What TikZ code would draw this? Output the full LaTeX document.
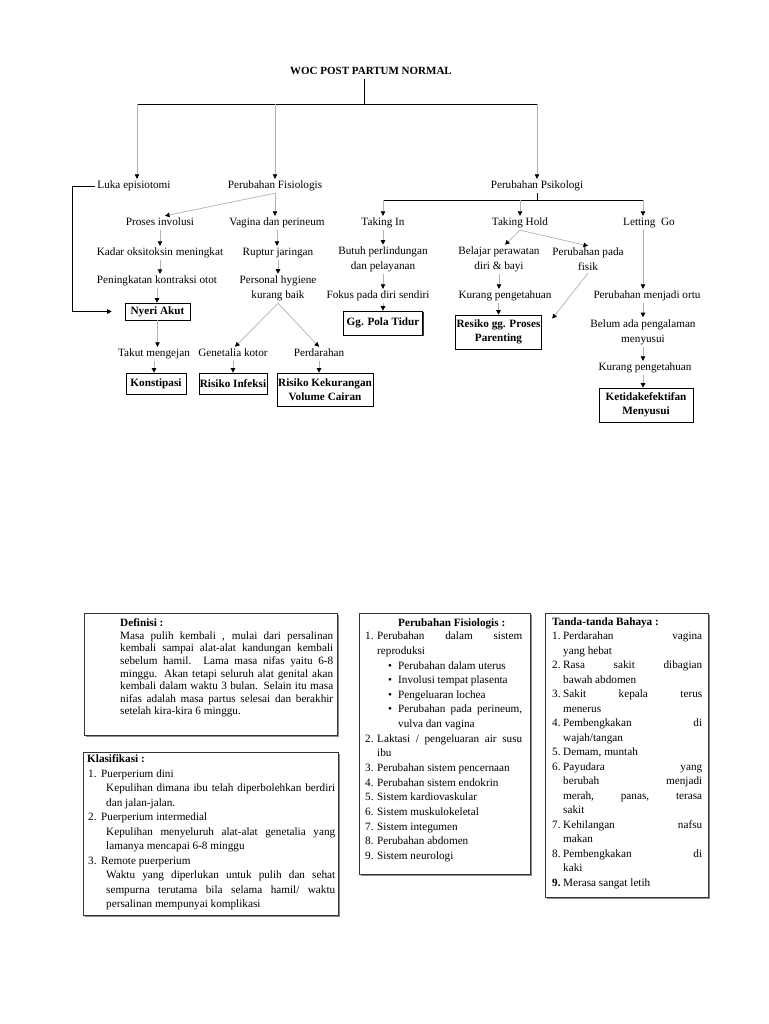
\documentclass[tikz,border=0pt]{standalone}
\usepackage{fontspec}
\setmainfont{Liberation Serif}
\usepackage{tikz}
\usetikzlibrary{arrows.meta,shadows}
\setlength{\parindent}{0pt}
\tolerance=9999
\hbadness=10000
\hyphenpenalty=10000
\exhyphenpenalty=10000
\tikzstyle{txt} = [inner sep=2pt, font=\fontsize{11.2}{15}\selectfont, text height=7.6pt, text depth=2.4pt]
\tikzstyle{txttwo} = [inner sep=2pt, font=\fontsize{11.2}{15}\selectfont, align=center]
\tikzstyle{block} = [rectangle, draw=black, line width=0.7pt, inner sep=1pt, fill=white, font=\fontsize{11.2}{14.5}\selectfont\bfseries, align=center, drop shadow={shadow xshift=1pt, shadow yshift=-1pt, fill=black, opacity=0.8}]
\tikzstyle{arrow} = [draw=black!30, line width=0.7pt, -{Triangle[black, length=4.5pt, width=4.5pt]}]
\tikzstyle{line} = [draw=black, line width=0.8pt]
\tikzstyle{infobox} = [rectangle, anchor=north west, draw=black!80, line width=0.7pt, fill=white, drop shadow={shadow xshift=1.5pt, shadow yshift=-1.5pt, fill=black!45, opacity=1}]
\tikzstyle{infotext} = [anchor=north west, inner sep=0pt, align=justify]
% nomor daftar: indentasi teks, lebar nomor, nomor
\newcommand{\nitem}[3]{\par\leftskip=#1\noindent\llap{\makebox[#2][l]{#3}}\ignorespaces}

\begin{document}
\begin{tikzpicture}[x=1pt, y=-1pt]
    \fill[white] (0,0) rectangle (768,1024);
    \useasboundingbox (0,0) rectangle (768,1024);

    % judul dan cabang utama
    \node (title) [txt, font=\fontsize{11}{13}\selectfont\bfseries] at (371,72) {WOC POST PARTUM NORMAL};
    \coordinate (barmid) at (364,104);
    \coordinate (barleft) at (137,104);
    \coordinate (barright) at (537,104);
    \draw [line] (title.south -| barmid) -- (barmid);
    \draw [line] (barleft) -- (barright);

    \node (luka) [txt] at (134,186) {Luka episiotomi};
    \node (fisio) [txt] at (275,186) {Perubahan Fisiologis};
    \node (psiko) [txt] at (537,186) {Perubahan Psikologi};
    \draw [arrow] (barleft) -- (barleft |- luka.north);
    \draw [arrow] (fisio.north |- barleft) -- (fisio.north);
    \draw [arrow] (barright) -- (psiko.north);

    % perubahan fisiologis
    \node (involusi) [txt] at (160,223) {Proses involusi};
    \node (vagina) [txt] at (277,223) {Vagina dan perineum};
    \node (kadar) [txt] at (160,253) {Kadar oksitoksin meningkat};
    \node (ruptur) [txt] at (278,253) {Ruptur jaringan};
    \node (kontraksi) [txt] at (157,281) {Peningkatan kontraksi otot};
    \node (hygiene) [txttwo] at (278,288.5) {Personal hygiene\\kurang baik};
    \node (nyeri) [block, minimum width=65pt, minimum height=17pt] at (157.5,311.5) {Nyeri Akut};
    \node (takut) [txt] at (154,354) {Takut mengejan};
    \node (genetalia) [txt] at (233,354) {Genetalia kotor};
    \node (perdarahan) [txt] at (319,354) {Perdarahan};
    \node (konstipasi) [block, minimum width=60pt, minimum height=21pt] at (156,383.5) {Konstipasi};
    \node (infeksi) [block, minimum width=68pt, minimum height=21pt] at (233,383.5) {Risiko Infeksi};
    \node (cairan) [block, minimum width=96pt, minimum height=33pt] at (325,389.5) {Risiko Kekurangan\\Volume Cairan};

    \draw [arrow] (fisio.south) -- ([xshift=5pt]involusi.north);
    \draw [arrow] (fisio.south) -- (fisio.south |- vagina.north);
    \draw [arrow] (involusi.south) -- (kadar.north);
    \draw [arrow] (kadar.south) -- (kadar.south |- kontraksi.north);
    \draw [arrow] (kontraksi.south) -- (kontraksi.south |- nyeri.north);
    \draw [arrow] (vagina.south) -- (vagina.south |- ruptur.north);
    \draw [arrow] (ruptur.south) -- (ruptur.south |- hygiene.north);
    \draw [arrow] (hygiene.south) -- ([xshift=2pt]genetalia.north);
    \draw [arrow] (hygiene.south) -- (perdarahan.north);
    \draw [arrow] (nyeri.south) -- (nyeri.south |- takut.north);
    \draw [arrow] (takut.south) -- (takut.south |- konstipasi.north);
    \draw [arrow] (genetalia.south) -- (infeksi.north);
    \draw [arrow] (perdarahan.south) -- (perdarahan.south |- cairan.north);
    \draw [line, -{Triangle[length=4.5pt, width=4.5pt]}] (luka.west) -| ([xshift=-52pt]nyeri.west) -- ([xshift=-13pt]nyeri.west);

    % perubahan psikologi
    \coordinate (psibar) at (537,200);
    \coordinate (inbar) at (383,200);
    \coordinate (gobar) at (643,200);
    \draw [line] (psiko.south) -- (psibar);
    \draw [line] (inbar) -- (gobar);

    \node (takingin) [txt] at (383,223) {Taking In};
    \node (takinghold) [txt] at (520,223) {Taking Hold};
    \node (lettinggo) [txt] at (649,223) {Letting~~Go};
    \draw [arrow] (inbar) -- (takingin.north);
    \draw [arrow] (takinghold.north |- inbar) -- (takinghold.north);
    \draw [arrow] (gobar) -- (gobar |- lettinggo.north);

    \node (butuh) [txttwo] at (383,259.5) {Butuh perlindungan\\dan pelayanan};
    \node (fokus) [txt] at (378,296) {Fokus pada diri sendiri};
    \node (tidur) [block, minimum width=79pt, minimum height=24pt] at (383,323) {Gg. Pola Tidur};
    \draw [arrow] (takingin.south) -- (butuh.north);
    \draw [arrow] (butuh.south) -- (butuh.south |- fokus.north);
    \draw [arrow] (fokus.south -| tidur.north) -- (tidur.north);

    \node (belajar) [txttwo] at (499,259.5) {Belajar perawatan\\diri \& bayi};
    \node (fisik) [txttwo] at (588,259.5) {Perubahan pada\\fisik};
    \node (kurangtahu) [txt] at (505,296) {Kurang pengetahuan};
    \node (parenting) [block, minimum width=85pt, minimum height=34pt] at (498.5,332) {Resiko gg. Proses\\Parenting};
    \draw [arrow] (takinghold.south) -- ([xshift=6pt]belajar.north);
    \draw [arrow] (takinghold.south) -- (fisik.north);
    \draw [arrow] (belajar.south) -- (belajar.south |- kurangtahu.north);
    \draw [arrow] (kurangtahu.south -| parenting.north) -- (parenting.north);
    \draw [arrow, shorten >=17pt] (fisik.south) -- (parenting.east);

    \node (ortu) [txt] at (647,296) {Perubahan menjadi ortu};
    \node (belum) [txttwo] at (643,332) {Belum ada pengalaman\\menyusui};
    \node (kurangtahu2) [txt] at (645,368) {Kurang pengetahuan};
    \node (menyusui) [block, minimum width=94pt, minimum height=34pt] at (646,405) {Ketidakefektifan\\Menyusui};
    \draw [arrow] (lettinggo.south -| gobar) -- (gobar |- ortu.north);
    \draw [arrow] (ortu.south -| gobar) -- (gobar |- belum.north);
    \draw [arrow] (belum.south -| gobar) -- (gobar |- kurangtahu2.north);
    \draw [arrow] (kurangtahu2.south -| gobar) -- (gobar |- menyusui.north);

    % kotak keterangan
    \node (defbox) [infobox, minimum width=253pt, minimum height=122pt] at (84,613) {};
    \node (deftext) [infotext, text width=213pt, font=\fontsize{11.2}{12.6}\selectfont] at (120,617.7) {\strut\textbf{Definisi :}\par
        Masa pulih kembali , mulai dari persalinan\linebreak
        kembali sampai alat-alat kandungan kembali\linebreak
        sebelum hamil. Lama masa nifas yaitu 6-8\linebreak
        minggu. Akan tetapi seluruh alat genital akan\linebreak
        kembali dalam waktu 3 bulan. Selain itu masa\linebreak
        nifas adalah masa partus selesai dan berakhir\linebreak
        setelah kira-kira 6 minggu.\par};

    \node (klasbox) [infobox, minimum width=255pt, minimum height=163pt] at (83,752) {};
    \node (klastext) [infotext, text width=248pt, font=\fontsize{11.2}{14.5}\selectfont] at (87,752.3) {\strut\textbf{Klasifikasi :}\par
        \nitem{14pt}{13pt}{1.}Puerperium dini\par
        \leftskip=19pt Kepulihan dimana ibu telah diperbolehkan berdiri\linebreak dan jalan-jalan.\par
        \nitem{14pt}{13pt}{2.}Puerperium intermedial\par
        \leftskip=19pt Kepulihan menyeluruh alat-alat genetalia yang\linebreak lamanya mencapai 6-8 minggu\par
        \nitem{14pt}{13pt}{3.}Remote puerperium\par
        \leftskip=19pt Waktu yang diperlukan untuk pulih dan sehat\linebreak sempurna terutama bila selama hamil/ waktu\linebreak persalinan mempunyai komplikasi\par};

    \node (fisbox) [infobox, minimum width=171pt, minimum height=261pt] at (359,613) {};
    \node (fistext) [infotext, text width=157pt, font=\fontsize{11.2}{14.65}\selectfont] at (365,616.2) {\strut\hspace*{33pt}\textbf{Perubahan Fisiologis :}\par\vspace{-1.6pt}
        \nitem{12pt}{12pt}{1.}Perubahan dalam sistem\linebreak reproduksi\par
        \nitem{33pt}{10pt}{\textbullet}Perubahan dalam uterus\par
        \nitem{33pt}{10pt}{\textbullet}Involusi tempat plasenta\par
        \nitem{33pt}{10pt}{\textbullet}Pengeluaran lochea\par
        \nitem{33pt}{10pt}{\textbullet}Perubahan pada perineum,\linebreak vulva dan vagina\par
        \nitem{12pt}{12pt}{2.}Laktasi / pengeluaran air susu\linebreak ibu\par
        \nitem{12pt}{12pt}{3.}Perubahan sistem pencernaan\par
        \nitem{12pt}{12pt}{4.}Perubahan sistem endokrin\par
        \nitem{12pt}{12pt}{5.}Sistem kardiovaskular\par
        \nitem{12pt}{12pt}{6.}Sistem muskulokeletal\par
        \nitem{12pt}{12pt}{7.}Sistem integumen\par
        \nitem{12pt}{12pt}{8.}Perubahan abdomen\par
        \nitem{12pt}{12pt}{9.}Sistem neurologi\par};

    \node (tandabox) [infobox, minimum width=163pt, minimum height=284pt] at (545,613) {};
    \node (tandatext) [infotext, text width=150pt, font=\fontsize{11.2}{14.5}\selectfont] at (552,614.9) {\strut\textbf{Tanda-tanda Bahaya :}\par
        \nitem{11pt}{11pt}{1.}Perdarahan vagina\linebreak yang hebat\par
        \nitem{11pt}{11pt}{2.}Rasa sakit dibagian\linebreak bawah abdomen\par
        \nitem{11pt}{11pt}{3.}Sakit kepala terus\linebreak menerus\par
        \nitem{11pt}{11pt}{4.}Pembengkakan di\linebreak wajah/tangan\par
        \nitem{11pt}{11pt}{5.}Demam, muntah\par
        \nitem{11pt}{11pt}{6.}Payudara yang\linebreak berubah menjadi\linebreak merah, panas, terasa\linebreak sakit\par
        \nitem{11pt}{11pt}{7.}Kehilangan nafsu\linebreak makan\par
        \nitem{11pt}{11pt}{8.}Pembengkakan di\linebreak kaki\par
        \nitem{11pt}{11pt}{\textbf{9.}}Merasa sangat letih\par};
\end{tikzpicture}
\end{document}
